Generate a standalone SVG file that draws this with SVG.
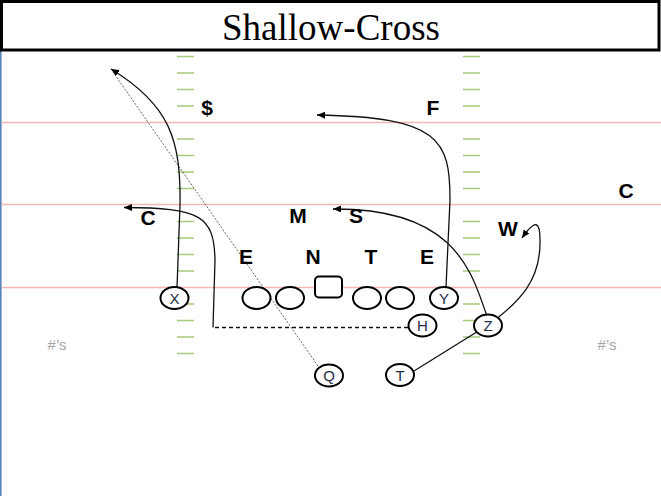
<svg xmlns="http://www.w3.org/2000/svg" width="661" height="496" viewBox="0 0 661 496">
<style>
.tick{stroke:#A9C97E;stroke-width:1.5}
.yard{stroke:#F2B6B6;stroke-width:1.3}
.pl{fill:#fff;stroke:#000;stroke-width:2}
.pt{font-family:"Liberation Sans",Arial,sans-serif;font-size:15px;fill:#1d2d4a;text-anchor:middle}
.df{font-family:"Liberation Sans",Arial,sans-serif;font-size:21px;font-weight:bold;fill:#000;text-anchor:middle}
.hs{font-family:"Liberation Sans",Arial,sans-serif;font-size:15px;fill:#A6A6A6;text-anchor:middle}
.rt{fill:none;stroke:#111;stroke-width:1.3}
.dash{fill:none;stroke:#111;stroke-width:1.3;stroke-dasharray:4 3}
.dot{fill:none;stroke:#555;stroke-width:0.9;stroke-dasharray:2 1.5}
</style>
<defs>
<marker id="ah" markerUnits="userSpaceOnUse" markerWidth="9" markerHeight="7" refX="8" refY="3.5" orient="auto">
<path d="M0,0 L8,3.5 L0,7 z" fill="#000"/>
</marker>
</defs>
<rect width="661" height="496" fill="#fff"/>
<line x1="0.8" y1="51" x2="0.8" y2="496" stroke="#5B83B8" stroke-width="1.6"/>
<g id="field">
<line class="yard" x1="2" y1="122.5" x2="661" y2="122.5"/>
<line class="yard" x1="2" y1="204.5" x2="661" y2="204.5"/>
<line class="yard" x1="2" y1="287.5" x2="661" y2="287.5"/>
<g id="hash-left">
<line class="tick" x1="177" y1="56.5" x2="194" y2="56.5"/>
<line class="tick" x1="177" y1="73" x2="194" y2="73"/>
<line class="tick" x1="177" y1="89.5" x2="194" y2="89.5"/>
<line class="tick" x1="177" y1="106" x2="194" y2="106"/>
<line class="tick" x1="177" y1="139" x2="194" y2="139"/>
<line class="tick" x1="177" y1="155.5" x2="194" y2="155.5"/>
<line class="tick" x1="177" y1="172" x2="194" y2="172"/>
<line class="tick" x1="177" y1="188.5" x2="194" y2="188.5"/>
<line class="tick" x1="177" y1="221.5" x2="194" y2="221.5"/>
<line class="tick" x1="177" y1="238" x2="194" y2="238"/>
<line class="tick" x1="177" y1="254.5" x2="194" y2="254.5"/>
<line class="tick" x1="177" y1="271" x2="194" y2="271"/>
<line class="tick" x1="177" y1="304" x2="194" y2="304"/>
<line class="tick" x1="177" y1="320.5" x2="194" y2="320.5"/>
<line class="tick" x1="177" y1="337" x2="194" y2="337"/>
<line class="tick" x1="177" y1="353.5" x2="194" y2="353.5"/>
</g>
<g id="hash-right">
<line class="tick" x1="463" y1="56.5" x2="480" y2="56.5"/>
<line class="tick" x1="463" y1="73" x2="480" y2="73"/>
<line class="tick" x1="463" y1="89.5" x2="480" y2="89.5"/>
<line class="tick" x1="463" y1="106" x2="480" y2="106"/>
<line class="tick" x1="463" y1="139" x2="480" y2="139"/>
<line class="tick" x1="463" y1="155.5" x2="480" y2="155.5"/>
<line class="tick" x1="463" y1="172" x2="480" y2="172"/>
<line class="tick" x1="463" y1="188.5" x2="480" y2="188.5"/>
<line class="tick" x1="463" y1="221.5" x2="480" y2="221.5"/>
<line class="tick" x1="463" y1="238" x2="480" y2="238"/>
<line class="tick" x1="463" y1="254.5" x2="480" y2="254.5"/>
<line class="tick" x1="463" y1="271" x2="480" y2="271"/>
<line class="tick" x1="463" y1="304" x2="480" y2="304"/>
<line class="tick" x1="463" y1="320.5" x2="480" y2="320.5"/>
<line class="tick" x1="463" y1="337" x2="480" y2="337"/>
<line class="tick" x1="463" y1="353.5" x2="480" y2="353.5"/>
</g>
<text class="hs" x="57" y="350">#’s</text>
<text class="hs" x="607" y="350">#’s</text>
</g>
<g id="title">
<rect x="1.5" y="1.5" width="657.5" height="48.5" fill="#fff" stroke="#000" stroke-width="3"/>
<text x="331" y="40" font-family="'Liberation Serif','Times New Roman',serif" font-size="37" text-anchor="middle" fill="#000">Shallow-Cross</text>
</g>
<g id="connectors">
<path class="dot" d="M318,366 L113,72"/>
<path class="rt" d="M177,288 L180,205 C181,140 170,105 111,69" marker-end="url(#ah)"/>
<path class="dash" d="M408,327.5 H213"/>
<path class="rt" d="M213,327.5 L215,260 C214,215 200,208 124,207.5" marker-end="url(#ah)"/>
<path class="rt" d="M446,287 L450,200 C450,140 440,117 317,115" marker-end="url(#ah)"/>
<path class="rt" d="M487,316 C472,275 458,208 333,209" marker-end="url(#ah)"/>
<path class="rt" d="M414,371 L488,325 C520,302 541,280 540,240 C540,222 536,218 522,238" marker-end="url(#ah)"/>
</g>
<g id="offense">
<g id="X"><ellipse class="pl" cx="174.5" cy="298" rx="14" ry="11"/><text class="pt" x="174.5" y="303.5">X</text></g>
<g id="LT"><ellipse class="pl" cx="256.5" cy="298" rx="14" ry="11"/></g>
<g id="LG"><ellipse class="pl" cx="290" cy="298" rx="14" ry="11"/></g>
<g id="C"><rect class="pl" x="315" y="276.5" width="27" height="21" rx="4"/></g>
<g id="RG"><ellipse class="pl" cx="367" cy="298" rx="14" ry="11"/></g>
<g id="RT"><ellipse class="pl" cx="400" cy="298" rx="14" ry="11"/></g>
<g id="Y"><ellipse class="pl" cx="444" cy="298" rx="14" ry="11"/><text class="pt" x="444" y="303.5">Y</text></g>
<g id="H"><ellipse class="pl" cx="422.5" cy="325.5" rx="14" ry="11"/><text class="pt" x="422.5" y="331">H</text></g>
<g id="Z"><ellipse class="pl" cx="488" cy="325.5" rx="14" ry="11"/><text class="pt" x="488" y="331">Z</text></g>
<g id="Q"><ellipse class="pl" cx="329" cy="375.5" rx="14" ry="11"/><text class="pt" x="329" y="381">Q</text></g>
<g id="T"><ellipse class="pl" cx="400" cy="375" rx="14" ry="11"/><text class="pt" x="400" y="380.5">T</text></g>
</g>
<g id="defense">
<g id="def-dollar"><text class="df" x="207" y="115">$</text></g>
<g id="def-F"><text class="df" x="433" y="115">F</text></g>
<g id="def-C-left"><text class="df" x="148" y="225">C</text></g>
<g id="def-M"><text class="df" x="298" y="223">M</text></g>
<g id="def-S"><text class="df" x="356" y="223">S</text></g>
<g id="def-C-right"><text class="df" x="626" y="198">C</text></g>
<g id="def-W"><text class="df" x="508" y="236">W</text></g>
<g id="def-E-left"><text class="df" x="246" y="264">E</text></g>
<g id="def-N"><text class="df" x="313" y="264">N</text></g>
<g id="def-T"><text class="df" x="371" y="264">T</text></g>
<g id="def-E-right"><text class="df" x="427" y="264">E</text></g>
</g>
</svg>
